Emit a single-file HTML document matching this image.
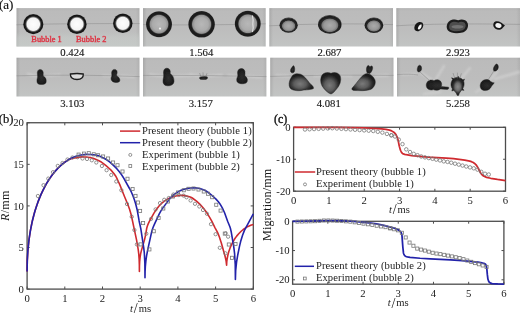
<!DOCTYPE html>
<html><head><meta charset="utf-8"><style>
html,body{margin:0;padding:0;background:#fff;}
body{width:520px;height:315px;overflow:hidden;}
svg{display:block;filter:blur(0.3px);}
</style></head><body>
<svg width="520" height="315" viewBox="0 0 520 315">
<rect width="520" height="315" fill="#fff"/>
<defs>
<linearGradient id="bg" x1="0" y1="0" x2="0" y2="1">
<stop offset="0" stop-color="#b4b4b4"/><stop offset="0.08" stop-color="#bbbbbb"/><stop offset="0.55" stop-color="#bdbdbd"/><stop offset="1" stop-color="#c2c4c3"/>
</linearGradient>
<linearGradient id="bgx" x1="0" y1="0" x2="1" y2="0">
<stop offset="0" stop-color="#000" stop-opacity="0.10"/><stop offset="0.03" stop-color="#000" stop-opacity="0"/><stop offset="0.97" stop-color="#000" stop-opacity="0"/><stop offset="1" stop-color="#000" stop-opacity="0.06"/>
</linearGradient>
<radialGradient id="gW">
<stop offset="0" stop-color="#fdfdfd"/><stop offset="0.62" stop-color="#f4f4f4"/><stop offset="0.72" stop-color="#6a6a6a"/><stop offset="0.8" stop-color="#1c1c1c"/><stop offset="0.93" stop-color="#161616"/><stop offset="1" stop-color="#3a3a3a"/>
</radialGradient>
<radialGradient id="gP2" cx="0.5" cy="0.5" r="0.5">
<stop offset="0" stop-color="#b8b8b8"/><stop offset="0.5" stop-color="#ababab"/><stop offset="0.68" stop-color="#939393"/><stop offset="0.75" stop-color="#303030"/><stop offset="0.8" stop-color="#1c1c1c"/><stop offset="0.95" stop-color="#1c1c1c"/><stop offset="1" stop-color="#444"/>
</radialGradient>
<radialGradient id="gP3" cx="0.5" cy="0.55" r="0.5">
<stop offset="0" stop-color="#ababab"/><stop offset="0.5" stop-color="#979797"/><stop offset="0.67" stop-color="#777"/><stop offset="0.75" stop-color="#2a2a2a"/><stop offset="0.95" stop-color="#1c1c1c"/><stop offset="1" stop-color="#3a3a3a"/>
</radialGradient>
<radialGradient id="gK" cx="0.5" cy="0.55" r="0.5">
<stop offset="0" stop-color="#8a8a8a"/><stop offset="0.4" stop-color="#6c6c6c"/><stop offset="0.7" stop-color="#2a2a2a"/><stop offset="1" stop-color="#1a1a1a"/>
</radialGradient>
<radialGradient id="gD" cx="0.5" cy="0.55" r="0.5">
<stop offset="0" stop-color="#2e2e2e"/><stop offset="1" stop-color="#1a1a1a"/>
</radialGradient>
<radialGradient id="gB" cx="0.45" cy="0.6" r="0.5">
<stop offset="0" stop-color="#7a7a7a"/><stop offset="0.5" stop-color="#5c5c5c"/><stop offset="0.82" stop-color="#303030"/><stop offset="1" stop-color="#1e1e1e"/>
</radialGradient>
<linearGradient id="lb" x1="0" y1="0" x2="0" y2="1"><stop offset="0" stop-color="#c6cbc8" stop-opacity="0"/><stop offset="0.4" stop-color="#c8cdca" stop-opacity="0.45"/><stop offset="1" stop-color="#c8cdca" stop-opacity="0.5"/></linearGradient>
<filter id="bl" x="-20%" y="-20%" width="140%" height="140%"><feGaussianBlur stdDeviation="0.45"/></filter>
<filter id="bl2" x="-30%" y="-30%" width="160%" height="160%"><feGaussianBlur stdDeviation="0.9"/></filter>
</defs>
<rect x="16.5" y="8.1" width="123.00" height="38.40" fill="url(#bg)"/>
<rect x="16.5" y="8.1" width="123.00" height="38.40" fill="url(#bgx)"/>
<rect x="143" y="8.1" width="122.70" height="38.40" fill="url(#bg)"/>
<rect x="143" y="8.1" width="122.70" height="38.40" fill="url(#bgx)"/>
<rect x="269.3" y="8.1" width="123.70" height="38.40" fill="url(#bg)"/>
<rect x="269.3" y="8.1" width="123.70" height="38.40" fill="url(#bgx)"/>
<rect x="396.3" y="8.1" width="123.70" height="38.40" fill="url(#bg)"/>
<rect x="396.3" y="8.1" width="123.70" height="38.40" fill="url(#bgx)"/>
<rect x="16.5" y="57.7" width="123.00" height="38.80" fill="url(#bg)"/>
<rect x="16.5" y="57.7" width="123.00" height="38.80" fill="url(#bgx)"/>
<rect x="143" y="57.7" width="123.40" height="38.80" fill="url(#bg)"/>
<rect x="143" y="57.7" width="123.40" height="38.80" fill="url(#bgx)"/>
<rect x="270.2" y="57.7" width="123.30" height="38.80" fill="url(#bg)"/>
<rect x="270.2" y="57.7" width="123.30" height="38.80" fill="url(#bgx)"/>
<rect x="397" y="57.7" width="123.00" height="38.80" fill="url(#bg)"/>
<rect x="397" y="57.7" width="123.00" height="38.80" fill="url(#bgx)"/>
<rect x="16.5" y="32" width="123" height="14.5" fill="url(#lb)"/>
<g fill="none" stroke="#d2d2d2" stroke-linecap="round" filter="url(#bl2)" opacity="0.8">
<path d="M28,74 L36,76" stroke-width="2.2"/>
<path d="M47,76 L60,74.5" stroke-width="1.6"/>
<path d="M103,75.5 L111,76" stroke-width="1.6"/>
<path d="M121,76 L134,77" stroke-width="2"/>
<path d="M150,74.5 L162,76" stroke-width="2.2"/>
<path d="M175,76 L190,75.5" stroke-width="1.8"/>
<path d="M190,74.5 L199,76" stroke-width="1.8"/>
<path d="M208,76 L222,75" stroke-width="1.8"/>
<path d="M228,75 L236,76" stroke-width="1.6"/>
<path d="M248,76.5 L262,77.5" stroke-width="2"/>
<path d="M276,75.5 L289,76" stroke-width="1.8"/>
<path d="M314,76 L321,75.5" stroke-width="1.4"/>
<path d="M341,75.5 L352,76" stroke-width="1.4"/>
<path d="M375,76 L388,75.5" stroke-width="1.8"/>
<path d="M402,74.5 L417,74" stroke-width="1.6"/>
<path d="M421,73 L432,80" stroke-width="2.2"/>
<path d="M444,66 L436,79" stroke-width="2.2"/>
<path d="M470,68 L461,79" stroke-width="2"/>
<path d="M497,72 L489,81" stroke-width="2.2"/>
<path d="M495,79 L519,72" stroke-width="2.4"/>
<path d="M476,92 L484,87" stroke-width="2"/>
<path d="M440,92 L424,94" stroke-width="2.2"/>
</g>
<g fill="none" stroke="#8c8c8c" stroke-width="0.7" opacity="0.75">
<path d="M16.5,24.8 Q60,23.4 139.5,23.6"/>
<path d="M143,24.6 Q200,25.6 265.7,23.8"/>
<path d="M269.3,25.8 Q330,22.6 393,24.6"/>
<path d="M396.3,25.8 Q440,23 520,24.4"/>
<path d="M16.5,75.8 Q76,74.2 139.5,76.6"/>
<path d="M143,75.4 Q203,75 266.4,76.6"/>
<path d="M270.2,76.4 Q330,74.2 393.5,75.4"/>
<path d="M397,74.6 Q410,73.6 418,75"/>
</g>
<g filter="url(#bl)">
<circle cx="33.3" cy="24.2" r="10.1" fill="url(#gW)"/>
<circle cx="76.9" cy="24.2" r="9.8" fill="url(#gW)"/>
<circle cx="122.8" cy="23.3" r="9.8" fill="url(#gW)"/>
<circle cx="159" cy="24.2" r="13.0" fill="url(#gP2)"/>
<circle cx="201.6" cy="24.3" r="13.3" fill="url(#gP2)"/>
<circle cx="247.8" cy="23.8" r="13.0" fill="url(#gP2)"/>
<circle cx="160" cy="28.6" r="1.1" fill="#efefef"/>
<path d="M252.4,15.5 Q253.6,20 252.8,24 Q253.8,28 252.4,32" fill="none" stroke="#e2e2e2" stroke-width="1.1"/>
<ellipse cx="288.6" cy="25.2" rx="9.2" ry="7.6" fill="url(#gP3)"/>
<ellipse cx="329.8" cy="24.4" rx="11.8" ry="9.4" fill="url(#gP3)"/>
<ellipse cx="373.9" cy="25.2" rx="9.4" ry="7.7" fill="url(#gP3)"/>
<path d="M452,19.8 C455,19 457,20.6 458.5,20.2 C461,19 466,19.2 467.6,23 C469,27 467,31 462.5,32.6 C457,34 451,33.6 448,30.6 C445.5,27.5 446.5,21.5 452,19.8Z" fill="#1c1c1c"/>
<path d="M452.6,22 C455,21.4 457,22.6 458.5,22.4 C461,21.4 464.5,21.6 465.4,24.2 C466.2,27 464.6,29.6 461.6,30.6 C457,31.6 452,31.4 450,29.4 C448.4,27.2 449,23.2 452.6,22Z" fill="#4e4e4e"/>
<ellipse cx="457.5" cy="26.8" rx="6" ry="1.8" fill="#727272"/>
<ellipse cx="418.8" cy="26.6" rx="5.2" ry="3.9" transform="rotate(-50 418.8 26.6)" fill="#181818"/>
<path d="M417.8,28.8 C418,26.4 419.6,24.4 421.4,24.2 C422,25.8 421.4,28 419.6,29.2 C418.8,29.6 418,29.4 417.8,28.8Z" fill="#f6f6f6"/>
<path d="M493.6,23.2 C494.6,20.8 498,20.6 501,22.4 C502.6,23.4 503.4,24.6 505,25.2 C503.6,26.6 502.6,28.6 500.6,29.4 C497.6,30.4 494.2,28.6 493.4,26.2 C493.1,25.2 493.2,24.2 493.6,23.2Z" fill="#181818"/>
<path d="M495.6,24 C496.4,22.6 498.6,22.6 500.4,23.8 C502,25 502,27 500.2,27.8 C498.4,28.4 496,27.6 495.4,26 C495.2,25.3 495.3,24.6 495.6,24Z" fill="#f4f4f4"/>
</g>
<g filter="url(#bl)" fill="url(#gD)" stroke="#1c1c1c" stroke-width="0.4">
<path d="M40,69.4 C42.6,69.3 43.6,71.5 43.2,74.2 C43,75.5 43.2,76 44,76.6 C46.2,78 46.8,81 45.8,83 C44.6,84.8 40.5,84.9 38.3,84 C36.8,83 36.6,80.5 37.3,78.5 C37.8,77 37.6,75.5 37.4,74 C37,71.5 38,69.5 40,69.4Z"/>
<path d="M114.5,69.4 C116.8,69.4 117.6,71.4 117,73.4 C116.6,74.6 116.4,75.4 117.2,76.2 C119.4,77.4 120.6,80 119.4,81.6 C118,83 114,82.8 112.4,81.4 C110.8,80 110.8,78 111.6,76.6 C112,75.6 111.8,74.8 111.6,73.6 C111.4,71 112.6,69.4 114.5,69.4Z"/>
<path d="M166.5,68.2 C169.5,68 170.8,70.5 170.2,73.5 C172.5,75 174.2,78 174,81.5 C173.8,84.8 170.5,86 167.5,85.8 C164.5,85.6 162.8,84 163,81 C163.2,78 164,76.5 163.6,74 C163.2,71 164,68.4 166.5,68.2Z"/>
<path d="M241,68.5 C244,68.4 245.4,70.6 245,73.5 C244.8,75 244.8,75.8 245.6,76.6 C247.8,78 248,81.5 246.4,82.8 C244.4,84.2 239.6,84.2 237.8,82.6 C236.4,81.2 236.4,78.8 237.4,77 C238,76 237.8,75 237.6,73.8 C237.2,71 238.6,68.6 241,68.5Z"/>
<path d="M199.8,77.2 C202,76.4 205.5,76.4 207.4,77 C207.8,78.2 207.2,79.2 206,79.4 C203.6,79.6 201.6,79.6 200.2,79.2 C199.4,78.6 199.4,77.8 199.8,77.2Z"/>
<path d="M292.5,75.5 C295,73 300,73 303.5,76 C306.5,78.5 308.5,82 311,84.5 C313,86 314,87.5 313.4,88.6 C311,90 306,89.6 302,90.4 C297,91.2 292,90.4 290,88 C288.5,85.5 289,81.5 290.4,79 C291.2,77.8 291.6,76.5 292.5,75.5Z" fill="url(#gB)"/>
<path d="M293.4,65.6 C294.8,66.5 295,69.5 294.4,71.5 C293.8,73.2 291.2,73.4 290.6,71.6 C290,69.8 291.6,67.6 293.4,65.6Z"/>
<path d="M331,73.2 C334.5,71.8 339,72.6 340.4,76.5 C341.4,80.5 340,85 337,88.5 C335,91 333,93.5 331,94 C328.5,93.4 326,91 323.8,88.4 C320.8,85 320,80.5 321.2,76.8 C322.6,72.6 327.5,71.8 331,73.2Z" fill="url(#gB)"/>
<path d="M367.5,73.5 C370.5,74 373.5,76.5 375,80 C376,83.5 374.5,87.5 370.5,89.5 C366,91.2 359,90.6 354.5,90.5 C352,90.5 351.2,89 352.6,87.5 C355,85 357.5,81.5 360,78.5 C362.5,75.5 365,73.2 367.5,73.5Z" fill="url(#gB)"/>
<path d="M367,72.8 C366,70.5 366.2,67 367.8,65.6 C369,65 369.6,66.4 370,67.2 C370.6,65.6 372.2,65.4 372.6,67 C373,69.4 371.6,72 369.8,73.6Z"/>
<path d="M419.6,65.2 C421.4,65.6 422,67.6 421.4,69.8 C420.8,71.6 419,72.4 417.8,71.6 C417,70.6 417.2,68.4 417.8,67 C418.2,66 418.8,65.2 419.6,65.2Z"/>
<path d="M427.6,81.6 C429.4,79.6 432.4,79.6 434,80.8 C435.8,79.2 439.4,79.4 440.8,81.6 C442,83.4 441.8,85.4 441.2,86.4 L448.6,87.2 C449.2,88.4 448.4,89.4 447,89.4 L440.6,89 C438.6,90.4 435.2,90.6 433.4,89.6 C431.4,90.4 428.2,89.8 427,88 C425.8,86 426,83.4 427.6,81.6Z"/>
<path d="M452.6,79.4 L451.6,77.8 L453.8,78.6 C455.2,77.6 456.4,77.4 457.4,77.6 L458.2,76.2 L459,77.8 C460.6,78 462,78.8 462.8,79.8 L464.6,79.2 L463.6,81 C464.6,83.4 464.2,86.4 462.8,88.6 L464,90.4 L461.8,90 C460.4,91.6 459.2,93 458.6,95.4 L457.2,95.4 C456.4,93 455.4,91.8 453.8,90.4 L451.8,91 L452.4,88.8 C450.6,86.4 450.4,82.6 452.6,79.4Z" fill="url(#gK)"/>
<path d="M496.6,64 C498.2,64.4 498.8,66.6 498,68.8 C497.2,70.6 495,71.8 493.8,70.8 C493,69.8 493.4,68 494.2,66.6 C494.8,65.4 495.6,64.2 496.6,64Z"/>
<path d="M483,80.6 C485.6,78.8 489,79.2 490.6,81.4 C491.8,82.4 493,82.6 494.2,82.8 C493.6,84.4 492,85.2 491.4,86.4 C490.6,88.6 488.2,90.6 485.2,90.6 C482,90.6 480,88.6 480.2,85.6 C480.3,83.4 481.4,81.6 483,80.6Z"/>
</g>
<path d="M70.4,74 Q77,73 83.3,74 Q83.6,79.4 77,79.5 Q70.2,79.4 70.4,74Z" fill="#dadada" stroke="#1c1c1c" stroke-width="1.3" filter="url(#bl)"/>
<g fill="none" stroke="#6a6a6a" stroke-width="0.5" opacity="0.8" filter="url(#bl)">
<path d="M201,77 L199.6,73"/><path d="M203.2,76.6 L203,72.4"/><path d="M205.6,77 L207,73.2"/><path d="M420,72 L430,81"/><path d="M493.8,71 L488,80"/><path d="M455,79 L453,73"/><path d="M459.6,79 L461.4,73.4"/><path d="M457.4,78.6 L457.4,72.6"/>
</g>
<g font-family="Liberation Serif, serif" font-size="10.7" fill="#1a1a1a" stroke="#1a1a1a" stroke-width="0.15" text-anchor="middle">
<text x="72.35" y="55.8">0.424</text>
<text x="201.2" y="55.8">1.564</text>
<text x="329.4" y="55.8">2.687</text>
<text x="457.9" y="55.8">2.923</text>
<text x="72.3" y="107.1">3.103</text>
<text x="200.7" y="107.1">3.157</text>
<text x="328.7" y="107.1">4.081</text>
<text x="457.9" y="107.1">5.258</text>
</g>
<g font-family="Liberation Serif, serif" font-size="8.4" fill="#de3444" stroke="#de3444" stroke-width="0.4">
<text x="31.3" y="42.3">Bubble 1</text><text x="76" y="42.3">Bubble 2</text>
</g>
<g font-family="Liberation Serif, serif" font-size="13" fill="#111">
<text x="-1" y="8.6" stroke="#111" stroke-width="0.15">(a)</text><text x="-1.2" y="122.6" font-size="12.6" stroke="#111" stroke-width="0.2">(b)</text><text x="273.9" y="123.2" font-size="12" stroke="#111" stroke-width="0.35">(c)</text>
</g>
<rect x="27.1" y="122.74000000000004" width="226.2" height="166.36" fill="none" stroke="#4d4d4d" stroke-width="1.3"/>
<path d="M27.1,289.1v-2.6M27.1,122.74000000000004v2.6M64.8,289.1v-2.6M64.8,122.74000000000004v2.6M102.5,289.1v-2.6M102.5,122.74000000000004v2.6M140.2,289.1v-2.6M140.2,122.74000000000004v2.6M177.9,289.1v-2.6M177.9,122.74000000000004v2.6M215.6,289.1v-2.6M215.6,122.74000000000004v2.6M253.3,289.1v-2.6M253.3,122.74000000000004v2.6M27.1,289.1h2.6M253.3,289.1h-2.6M27.1,247.51h2.6M253.3,247.51h-2.6M27.1,205.92h2.6M253.3,205.92h-2.6M27.1,164.33h2.6M253.3,164.33h-2.6M27.1,122.74h2.6M253.3,122.74h-2.6" stroke="#4d4d4d" stroke-width="1"/>
<path d="M27.1,271.5 L27.28,260.89 L27.84,250.99 L28.8,241.3 L30.15,231.91 L31.93,222.76 L34.07,214.06 L36.64,205.68 L39.54,197.85 L42.9,190.33 L46.59,183.42 L50.59,177.17 L52.7,174.29 L54.88,171.59 L57.26,168.93 L59.67,166.51 L62.24,164.22 L64.95,162.04 L67.06,160.63 L69.06,159.56 L71.06,158.77 L73.17,158.21 L79.54,157.13 L82.08,156.92 L84.38,156.93 L87.38,157.17 L90.93,157.66 L93.11,158.23 L95.53,159.13 L98.92,160.68 L100.77,161.7 L103.1,163.29 L105.7,165.36 L109.29,168.5 L111.74,170.92 L113.89,173.45 L115.62,175.99 L117.17,178.96 L119.88,184.91 L124.48,196.45 L127.83,204.45 L129.57,209.21 L131.19,214.76 L136.54,239.86 L138.19,249.33 L138.74,253.86 L139.14,259.21 L139.34,264.64 L139.4,271.5 L139.46,265.99 L139.66,261.7 L140.05,257.65 L140.61,253.92 L141.26,251.13 L144.42,240.11 L145.67,234.67 L146.65,228.52 L147.29,226.26 L148.08,224.13 L149.25,221.7 L153.96,213.13 L156.34,209.56 L159.05,206.04 L161.54,203.39 L164.37,201.06 L167.34,199.11 L170.4,197.63 L172.32,196.95 L175.86,196.06 L178.65,195.54 L181.25,195.25 L183.06,195.34 L184.99,195.6 L189.44,196.73 L190.83,197.22 L192.26,198 L196.52,201.21 L199.77,204.13 L202.86,207.49 L206.51,212.35 L209.64,217.34 L211.91,221.43 L214.92,227.55 L217.26,231.86 L218.16,233.85 L219.37,237.09 L221.33,243.04 L225.06,256.23 L226.09,260.89 L226.6,265.2 L226.76,261.95 L227.2,258.5 L227.89,255.01 L228.83,251.54 L230,248.16 L231.4,244.87 L232.98,241.76 L234.75,238.83 L236.67,236.13 L238.71,233.7 L240.9,231.49 L243.23,229.5 L245.65,227.82 L248.14,226.42 L250.7,225.31 L253.3,224.5" fill="none" stroke="#cf2a2f" stroke-width="1.6" stroke-linejoin="round"/>
<path d="M27.1,271.5 L27.3,260.29 L27.94,249.76 L29.02,239.5 L30.57,229.54 L32.57,219.96 L35.02,210.78 L37.88,202.14 L41.12,194.13 L44.82,186.58 L46.78,183.09 L48.85,179.74 L51,176.58 L53.23,173.62 L55.53,170.84 L57.9,168.26 L60.35,165.88 L62.84,163.73 L65.37,161.8 L67.97,160.07 L70.61,158.57 L73.28,157.29 L76,156.25 L78.71,155.44 L82.44,154.71 L86.18,154.41 L90.36,154.53 L95.49,155.07 L97.83,155.6 L100.39,156.53 L103.97,158.22 L106.76,159.78 L109.89,162.13 L114,165.83 L116.79,168.66 L119.35,171.67 L121.2,174.17 L123.16,177.23 L129.49,188.49 L131.42,192.24 L132.92,195.67 L134.39,199.68 L135.71,203.96 L137.22,210.02 L139.14,220.97 L140.84,228.81 L143.7,247.58 L144.31,252.81 L144.85,263.29 L145,277.75 L145.08,271.88 L145.35,266.4 L145.85,261.1 L146.57,255.92 L147.55,250.68 L151.32,233.36 L152.11,230.29 L153.13,227.29 L154.6,223.82 L159.28,213.96 L160.94,210.88 L162.71,208.13 L169.08,199.61 L170.93,197.38 L174.05,194.44 L177.64,192.09 L180.58,190.53 L183.33,189.45 L186.68,188.64 L190.42,188.01 L193.52,187.76 L195.28,187.85 L198.14,188.29 L201.39,189.08 L203.42,189.71 L205.19,190.54 L207.16,191.76 L209.42,193.46 L213.68,196.99 L215.98,199.11 L218.16,201.5 L219.97,203.95 L222.31,207.96 L224.57,212.76 L227.63,221.21 L229.89,226.72 L230.53,228.83 L231.13,231.47 L233.73,246.7 L234.59,253.62 L235.23,264.74 L235.4,279.5 L235.68,270.78 L236.59,261.92 L237.84,254.48 L239.54,246.12 L240.63,241.58 L242.56,235.23 L244.44,230.4 L253.3,213.94" fill="none" stroke="#2222aa" stroke-width="1.6" stroke-linejoin="round"/>
<g fill="none" stroke="#777" stroke-width="0.8"><circle cx="37.9" cy="196" r="1.65"/><circle cx="43.5" cy="185.2" r="1.65"/><circle cx="48.3" cy="178.6" r="1.65"/><circle cx="53" cy="172.2" r="1.65"/><circle cx="57.8" cy="165.9" r="1.65"/><circle cx="62.5" cy="163" r="1.65"/><circle cx="67.5" cy="159.5" r="1.65"/><circle cx="72.5" cy="157.5" r="1.65"/><circle cx="77.5" cy="157.2" r="1.65"/><circle cx="82.5" cy="158.5" r="1.65"/><circle cx="87" cy="159" r="1.65"/><circle cx="91.8" cy="160.3" r="1.65"/><circle cx="96.3" cy="162.5" r="1.65"/><circle cx="101.9" cy="166" r="1.65"/><circle cx="106.6" cy="170.2" r="1.65"/><circle cx="111.25" cy="175" r="1.65"/><circle cx="116.25" cy="181.5" r="1.65"/><circle cx="121.4" cy="190.25" r="1.65"/><circle cx="127" cy="204" r="1.65"/><circle cx="131.75" cy="216.75" r="1.65"/><circle cx="134.4" cy="230" r="1.65"/><circle cx="136.9" cy="244.4" r="1.65"/><circle cx="146.3" cy="233.7" r="1.65"/><circle cx="151.1" cy="218.9" r="1.65"/><circle cx="155.6" cy="209.4" r="1.65"/><circle cx="160" cy="203.1" r="1.65"/><circle cx="164.2" cy="199.8" r="1.65"/><circle cx="168.8" cy="198" r="1.65"/><circle cx="173.5" cy="194.5" r="1.65"/><circle cx="178.75" cy="195" r="1.65"/><circle cx="183.5" cy="195.6" r="1.65"/><circle cx="186.5" cy="197.3" r="1.65"/><circle cx="190.6" cy="200.5" r="1.65"/><circle cx="195" cy="203.8" r="1.65"/><circle cx="199.3" cy="206.5" r="1.65"/><circle cx="203" cy="210" r="1.65"/><circle cx="206.9" cy="213.75" r="1.65"/><circle cx="211" cy="224.2" r="1.65"/><circle cx="215.6" cy="234.2" r="1.65"/><circle cx="219.8" cy="247.8" r="1.65"/><circle cx="225.4" cy="253.3" r="1.65"/><circle cx="225.7" cy="233.3" r="1.65"/><circle cx="228.1" cy="236.7" r="1.65"/><rect x="77.05" y="153.05" width="3.1" height="3.1"/><rect x="82.45" y="152.05" width="3.1" height="3.1"/><rect x="87.2" y="151.65" width="3.1" height="3.1"/><rect x="92.2" y="152.75" width="3.1" height="3.1"/><rect x="96.55" y="153.7" width="3.1" height="3.1"/><rect x="101.55" y="154.95" width="3.1" height="3.1"/><rect x="106.55" y="156.95" width="3.1" height="3.1"/><rect x="111.55" y="160.95" width="3.1" height="3.1"/><rect x="115.95" y="163.7" width="3.1" height="3.1"/><rect x="120.95" y="169.95" width="3.1" height="3.1"/><rect x="125.95" y="177.2" width="3.1" height="3.1"/><rect x="131.05" y="187.45" width="3.1" height="3.1"/><rect x="133.95" y="194.35" width="3.1" height="3.1"/><rect x="136.45" y="200.95" width="3.1" height="3.1"/><rect x="138.55" y="209.35" width="3.1" height="3.1"/><rect x="141.55" y="221.55" width="3.1" height="3.1"/><rect x="139.05" y="242.85" width="3.1" height="3.1"/><rect x="147.85" y="247.85" width="3.1" height="3.1"/><rect x="152.2" y="229.7" width="3.1" height="3.1"/><rect x="157.05" y="216.45" width="3.1" height="3.1"/><rect x="161.75" y="206.95" width="3.1" height="3.1"/><rect x="166.45" y="199.95" width="3.1" height="3.1"/><rect x="171.45" y="194.95" width="3.1" height="3.1"/><rect x="176.45" y="190.95" width="3.1" height="3.1"/><rect x="182.2" y="188.7" width="3.1" height="3.1"/><rect x="187.05" y="187.25" width="3.1" height="3.1"/><rect x="191.95" y="186.95" width="3.1" height="3.1"/><rect x="196.95" y="187.95" width="3.1" height="3.1"/><rect x="202.2" y="189.95" width="3.1" height="3.1"/><rect x="206.55" y="192.2" width="3.1" height="3.1"/><rect x="210.65" y="195.65" width="3.1" height="3.1"/><rect x="214.7" y="203.2" width="3.1" height="3.1"/><rect x="219.05" y="209.05" width="3.1" height="3.1"/><rect x="223.25" y="232.05" width="3.1" height="3.1"/><rect x="227.25" y="242.95" width="3.1" height="3.1"/><rect x="233.95" y="242.45" width="3.1" height="3.1"/><rect x="230.45" y="256.25" width="3.1" height="3.1"/></g>
<g font-family="Liberation Serif, serif" font-size="10.7" fill="#1a1a1a">
<g text-anchor="end">
<text x="23.9" y="292.7">0</text>
<text x="23.9" y="251.11">5</text>
<text x="23.9" y="209.52">10</text>
<text x="23.9" y="167.93">15</text>
<text x="23.9" y="126.34">20</text>
</g><g text-anchor="middle">
<text x="27.1" y="301.8">0</text>
<text x="64.8" y="301.8">1</text>
<text x="102.5" y="301.8">2</text>
<text x="140.2" y="301.8">3</text>
<text x="177.9" y="301.8">4</text>
<text x="215.6" y="301.8">5</text>
<text x="253.3" y="301.8">6</text>
</g>
<path d="M120,131.1h20.2" stroke="#cf2a2f" stroke-width="1.5"/><path d="M120,142.7h20.2" stroke="#2222aa" stroke-width="1.5"/>
<g fill="none" stroke="#777" stroke-width="0.8"><circle cx="130.3" cy="154.9" r="1.5"/><rect x="128.9" y="164.6" width="2.8" height="2.8"/></g>
<g font-size="10.6" letter-spacing="0.1">
<text x="142" y="133.5">Present theory (bubble 1)</text><text x="142" y="145.5">Present theory (bubble 2)</text>
<text x="142" y="157.7">Experiment (bubble 1)</text><text x="142" y="169.6">Experiment (bubble 2)</text>
</g>
<text font-size="12" letter-spacing="0.3" transform="translate(8.9,205.7) rotate(-90)" text-anchor="middle"><tspan font-style="italic">R</tspan>/mm</text>
<text font-size="10.6" x="130.1" y="311.7"><tspan font-style="italic">t</tspan><tspan font-size="14" dx="0.8" dy="1.3">/</tspan><tspan dx="0.9" dy="-1.3">ms</tspan></text>
</g>
<rect x="293.6" y="127.3" width="211.9" height="63.9" fill="none" stroke="#4d4d4d" stroke-width="1.3"/>
<rect x="292.6" y="221.3" width="211.3" height="62.9" fill="none" stroke="#4d4d4d" stroke-width="1.3"/>
<path d="M293.6,191.2v-2.4M293.6,127.3v2.4M328.92,191.2v-2.4M328.92,127.3v2.4M364.23,191.2v-2.4M364.23,127.3v2.4M399.55,191.2v-2.4M399.55,127.3v2.4M434.87,191.2v-2.4M434.87,127.3v2.4M470.18,191.2v-2.4M470.18,127.3v2.4M505.5,191.2v-2.4M505.5,127.3v2.4M293.6,127.3h2.4M505.5,127.3h-2.4M293.6,159.25h2.4M505.5,159.25h-2.4M293.6,191.2h2.4M505.5,191.2h-2.4M292.6,284.2v-2.4M292.6,221.3v2.4M327.82,284.2v-2.4M327.82,221.3v2.4M363.03,284.2v-2.4M363.03,221.3v2.4M398.25,284.2v-2.4M398.25,221.3v2.4M433.47,284.2v-2.4M433.47,221.3v2.4M468.68,284.2v-2.4M468.68,221.3v2.4M503.9,284.2v-2.4M503.9,221.3v2.4M292.6,221.3h2.4M503.9,221.3h-2.4M292.6,250.55h2.4M503.9,250.55h-2.4M292.6,279.8h2.4M503.9,279.8h-2.4" stroke="#4d4d4d" stroke-width="1"/>
<path d="M293.6,127.3 L335.63,127.33 L364.3,127.95 L373.42,128.32 L381.68,128.9 L385.92,129.39 L389.59,130.12 L391.64,130.87 L393.83,132.25 L395.03,133.36 L396.23,135.07 L397.15,137.07 L398,139.66 L399.27,146.13 L400.47,150.25 L401.17,151.74 L401.95,152.96 L402.45,153.44 L403.36,153.92 L404.64,154.37 L406.19,154.73 L411.63,155.52 L427.8,157.03 L446.45,158.16 L453.51,158.72 L464.74,160.14 L469.76,161.09 L471.45,161.66 L473.29,162.59 L474.56,163.46 L475.83,164.67 L476.68,165.66 L477.46,166.86 L480.35,172.48 L481.13,173.69 L482.47,175.3 L483.96,176.29 L486.57,177.33 L490.67,178.27 L497.45,179.41 L505.5,180.51" fill="none" stroke="#cf2a2f" stroke-width="1.75" stroke-linejoin="round"/>
<path d="M292.6,221.32 L327.25,220.57 L339.72,220.7 L350.64,221.07 L356.48,221.56 L366.84,222.66 L376.63,223.97 L383.88,225.41 L393.46,227.95 L396.42,228.97 L398.74,230.12 L400.29,231.41 L401.28,232.84 L401.84,234.54 L401.98,235.61 L402.83,246.98 L403.46,252.92 L403.81,254.05 L404.45,255.23 L405.08,255.91 L406,256.48 L407.34,256.95 L410.08,257.4 L420.08,258.25 L430.23,258.88 L450.65,259.81 L462.06,260.64 L477.84,262.23 L480.87,262.67 L483.54,263.25 L484.67,263.68 L485.59,264.28 L486.15,265.42 L486.78,268.34 L487.35,274.63 L487.91,279.05 L488.55,281.06 L489.32,282.29 L490.73,283.17 L492.14,283.58 L497.7,283.91 L503.9,284.04" fill="none" stroke="#2222aa" stroke-width="1.75" stroke-linejoin="round"/>
<g fill="none" stroke="#777" stroke-width="0.8"><circle cx="305" cy="129.5" r="1.75"/><circle cx="309.55" cy="129.28" r="1.75"/><circle cx="314.1" cy="129.07" r="1.75"/><circle cx="318.65" cy="128.85" r="1.75"/><circle cx="323.2" cy="128.64" r="1.75"/><circle cx="327.75" cy="128.42" r="1.75"/><circle cx="332.3" cy="128.21" r="1.75"/><circle cx="336.85" cy="128.5" r="1.75"/><circle cx="341.4" cy="128.81" r="1.75"/><circle cx="345.95" cy="129.13" r="1.75"/><circle cx="350.5" cy="129.44" r="1.75"/><circle cx="355.05" cy="129.76" r="1.75"/><circle cx="359.6" cy="130.07" r="1.75"/><circle cx="364.15" cy="130.39" r="1.75"/><circle cx="368.7" cy="130.7" r="1.75"/><circle cx="373.25" cy="131.03" r="1.75"/><circle cx="377.8" cy="131.8" r="1.75"/><circle cx="382.35" cy="132.57" r="1.75"/><circle cx="386.9" cy="133.92" r="1.75"/><circle cx="391.45" cy="135.32" r="1.75"/><circle cx="391.25" cy="135.25" r="1.75"/><circle cx="395" cy="136.5" r="1.75"/><circle cx="398.75" cy="139.6" r="1.75"/><circle cx="402.5" cy="144.12" r="1.75"/><circle cx="406.25" cy="149.35" r="1.75"/><circle cx="410" cy="152.03" r="1.75"/><circle cx="413.75" cy="153.85" r="1.75"/><circle cx="417.5" cy="155.2" r="1.75"/><circle cx="421.25" cy="156.47" r="1.75"/><circle cx="425" cy="157.38" r="1.75"/><circle cx="428.75" cy="158.07" r="1.75"/><circle cx="432.5" cy="158.8" r="1.75"/><circle cx="436.25" cy="159.64" r="1.75"/><circle cx="440" cy="160.41" r="1.75"/><circle cx="443.75" cy="161.35" r="1.75"/><circle cx="447.5" cy="161.9" r="1.75"/><circle cx="451.25" cy="162.72" r="1.75"/><circle cx="455" cy="163.67" r="1.75"/><circle cx="458.75" cy="164.62" r="1.75"/><circle cx="462.5" cy="165.57" r="1.75"/><circle cx="466.25" cy="166.5" r="1.75"/><circle cx="470" cy="167.4" r="1.75"/><circle cx="473.75" cy="168.3" r="1.75"/><circle cx="477.5" cy="169.63" r="1.75"/><circle cx="481.25" cy="171.8" r="1.75"/><circle cx="485" cy="173.75" r="1.75"/><circle cx="488.75" cy="174.5" r="1.75"/><rect x="295.95" y="220.05" width="3.1" height="3.1"/><rect x="300.35" y="219.95" width="3.1" height="3.1"/><rect x="304.75" y="219.85" width="3.1" height="3.1"/><rect x="309.15" y="219.75" width="3.1" height="3.1"/><rect x="313.55" y="219.64" width="3.1" height="3.1"/><rect x="317.95" y="219.29" width="3.1" height="3.1"/><rect x="322.35" y="218.94" width="3.1" height="3.1"/><rect x="326.75" y="218.92" width="3.1" height="3.1"/><rect x="331.15" y="219" width="3.1" height="3.1"/><rect x="335.55" y="219.19" width="3.1" height="3.1"/><rect x="339.95" y="219.48" width="3.1" height="3.1"/><rect x="344.35" y="219.78" width="3.1" height="3.1"/><rect x="348.75" y="220.09" width="3.1" height="3.1"/><rect x="353.15" y="220.75" width="3.1" height="3.1"/><rect x="357.55" y="221.41" width="3.1" height="3.1"/><rect x="361.95" y="222.07" width="3.1" height="3.1"/><rect x="366.35" y="222.73" width="3.1" height="3.1"/><rect x="370.75" y="223.43" width="3.1" height="3.1"/><rect x="375.15" y="224.16" width="3.1" height="3.1"/><rect x="379.55" y="224.89" width="3.1" height="3.1"/><rect x="383.95" y="225.62" width="3.1" height="3.1"/><rect x="388.35" y="226.65" width="3.1" height="3.1"/><rect x="388.75" y="226.75" width="3.1" height="3.1"/><rect x="392.6" y="227.71" width="3.1" height="3.1"/><rect x="396.45" y="228.77" width="3.1" height="3.1"/><rect x="400.3" y="231.24" width="3.1" height="3.1"/><rect x="404.15" y="235.91" width="3.1" height="3.1"/><rect x="408" y="241.01" width="3.1" height="3.1"/><rect x="411.85" y="244.2" width="3.1" height="3.1"/><rect x="415.7" y="247.04" width="3.1" height="3.1"/><rect x="419.55" y="248.06" width="3.1" height="3.1"/><rect x="423.4" y="249.01" width="3.1" height="3.1"/><rect x="427.25" y="250.11" width="3.1" height="3.1"/><rect x="431.1" y="251.21" width="3.1" height="3.1"/><rect x="434.95" y="252.01" width="3.1" height="3.1"/><rect x="438.8" y="252.61" width="3.1" height="3.1"/><rect x="442.65" y="253.3" width="3.1" height="3.1"/><rect x="446.5" y="254.05" width="3.1" height="3.1"/><rect x="450.35" y="254.86" width="3.1" height="3.1"/><rect x="454.2" y="255.71" width="3.1" height="3.1"/><rect x="458.05" y="256.52" width="3.1" height="3.1"/><rect x="461.9" y="257.64" width="3.1" height="3.1"/><rect x="465.75" y="258.98" width="3.1" height="3.1"/><rect x="469.6" y="260.27" width="3.1" height="3.1"/><rect x="473.45" y="261.55" width="3.1" height="3.1"/><rect x="477.3" y="262.73" width="3.1" height="3.1"/><rect x="481.15" y="263.92" width="3.1" height="3.1"/><rect x="485" y="265.34" width="3.1" height="3.1"/></g>
<g font-family="Liberation Serif, serif" font-size="10.7" fill="#1a1a1a">
<g text-anchor="end">
<text x="290.6" y="130.8">0</text>
<text x="289.7" y="224.8">0</text>
<text x="290.6" y="162.75">-10</text>
<text x="289.7" y="254.05">-10</text>
<text x="290.6" y="194.7">-20</text>
<text x="289.7" y="283.3">-20</text>
</g><g text-anchor="middle">
<text x="293.6" y="203.7">0</text>
<text x="292.6" y="296.6">0</text>
<text x="328.92" y="203.7">1</text>
<text x="327.82" y="296.6">1</text>
<text x="364.23" y="203.7">2</text>
<text x="363.03" y="296.6">2</text>
<text x="399.55" y="203.7">3</text>
<text x="398.25" y="296.6">3</text>
<text x="434.87" y="203.7">4</text>
<text x="433.47" y="296.6">4</text>
<text x="470.18" y="203.7">5</text>
<text x="468.68" y="296.6">5</text>
<text x="505.5" y="203.7">6</text>
<text x="503.9" y="296.6">6</text>
</g>
<path d="M294.8,172h20.4" stroke="#cf2a2f" stroke-width="1.5"/><path d="M294.8,266.3h19.2" stroke="#2222aa" stroke-width="1.5"/>
<g fill="none" stroke="#777" stroke-width="0.8"><circle cx="305" cy="184.4" r="1.5"/><rect x="303.4" y="277.1" width="2.8" height="2.8"/></g>
<g font-size="10.6" letter-spacing="0.1">
<text x="315.9" y="174.9">Present theory (bubble 1)</text><text x="315.9" y="187.1">Experiment (bubble 1)</text>
<text x="315.9" y="269.1">Present theory (bubble 2)</text><text x="315.9" y="280.9">Experiment (bubble 2)</text>
</g>
<text font-size="12.2" letter-spacing="0.12" transform="translate(271.2,204.8) rotate(-90)" text-anchor="middle">Migration/mm</text>
<text font-size="10.6" x="388.9" y="212.9"><tspan font-style="italic">t</tspan><tspan font-size="14" dx="0.8" dy="1.3">/</tspan><tspan dx="0.9" dy="-1.3">ms</tspan></text>
<text font-size="10.6" x="387.8" y="306.3"><tspan font-style="italic">t</tspan><tspan font-size="14" dx="0.8" dy="1.3">/</tspan><tspan dx="0.9" dy="-1.3">ms</tspan></text>
</g>
</svg>
</body></html>
